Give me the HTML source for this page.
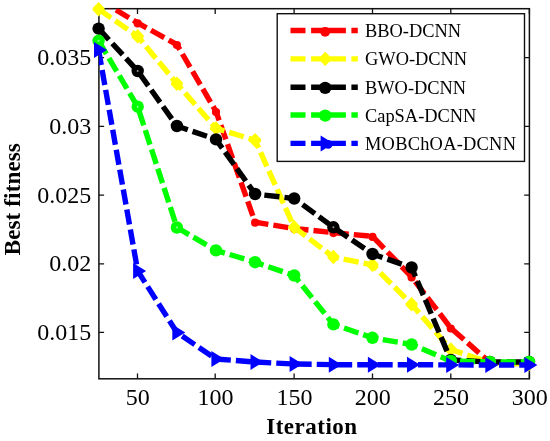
<!DOCTYPE html>
<html><head><meta charset="utf-8"><title>Convergence curves</title>
<style>
html,body{margin:0;padding:0;background:#fff;}
svg{display:block;}
text{font-variant-ligatures:none;font-family:"Liberation Serif","Times New Roman",serif;fill:#000;}
.tk{font-size:24px;}
.ax{font-size:23px;font-weight:bold;}
.lg{font-size:18.4px;}
</style></head><body>
<svg width="550" height="441" viewBox="0 0 550 441">
<rect x="0" y="0" width="550" height="441" fill="#ffffff"/>
<defs><clipPath id="ax"><rect x="98.9" y="8.7" width="430.5" height="370.1"/></clipPath></defs>

<rect x="98.9" y="8.7" width="430.5" height="370.1" fill="none" stroke="#111" stroke-width="1.5"/>
<path d="M137.5,378.8v-5.2M137.5,8.7v5.2M215.2,378.8v-5.2M215.2,8.7v5.2M294.1,378.8v-5.2M294.1,8.7v5.2M372.5,378.8v-5.2M372.5,8.7v5.2M450.8,378.8v-5.2M450.8,8.7v5.2M529.4,378.8v-5.2M529.4,8.7v5.2M98.9,57.7h5.2M529.4,57.7h-5.2M98.9,126.4h5.2M529.4,126.4h-5.2M98.9,195.1h5.2M529.4,195.1h-5.2M98.9,263.8h5.2M529.4,263.8h-5.2M98.9,332.4h5.2M529.4,332.4h-5.2" stroke="#111" stroke-width="1.3" fill="none"/>
<text class="tk" x="137.8" y="405.0" text-anchor="middle">50</text>
<text class="tk" x="215.5" y="405.0" text-anchor="middle">100</text>
<text class="tk" x="294.4" y="405.0" text-anchor="middle">150</text>
<text class="tk" x="372.8" y="405.0" text-anchor="middle">200</text>
<text class="tk" x="451.1" y="405.0" text-anchor="middle">250</text>
<text class="tk" x="529.7" y="405.0" text-anchor="middle">300</text>
<text class="tk" x="91.2" y="65.3" text-anchor="end">0.035</text>
<text class="tk" x="91.2" y="134.0" text-anchor="end">0.03</text>
<text class="tk" x="91.2" y="202.7" text-anchor="end">0.025</text>
<text class="tk" x="91.2" y="271.4" text-anchor="end">0.02</text>
<text class="tk" x="91.2" y="340.0" text-anchor="end">0.015</text>
<text class="ax" x="311.9" y="434.0" text-anchor="middle" letter-spacing="0.5">Iteration</text>
<text class="ax" transform="translate(20.2,199.2) rotate(-90)" text-anchor="middle" letter-spacing="0.15">Best fitness</text>
<g clip-path="url(#ax)"><polyline points="98.6,-0.5 137.7,22.9 176.9,44.6 216.0,111.5 255.1,222.2 294.2,228.5 333.4,232.6 372.5,236.4 411.6,277.0 450.8,328.0 489.9,362.5 529.0,364.0" fill="none" stroke="#ff0000" stroke-width="5.4" stroke-dasharray="15.2 5.05" stroke-linejoin="miter"/></g>
<circle cx="137.7" cy="23.4" r="4.1" fill="#ff0000"/>
<circle cx="176.9" cy="45.1" r="4.1" fill="#ff0000"/>
<circle cx="216.0" cy="112.0" r="4.1" fill="#ff0000"/>
<circle cx="255.1" cy="222.7" r="4.1" fill="#ff0000"/>
<circle cx="294.2" cy="229.0" r="4.1" fill="#ff0000"/>
<circle cx="333.4" cy="233.1" r="4.1" fill="#ff0000"/>
<circle cx="372.5" cy="236.9" r="4.1" fill="#ff0000"/>
<circle cx="411.6" cy="277.5" r="4.1" fill="#ff0000"/>
<circle cx="450.8" cy="328.5" r="4.1" fill="#ff0000"/>
<circle cx="489.9" cy="363.0" r="4.1" fill="#ff0000"/>
<circle cx="529.0" cy="364.5" r="4.1" fill="#ff0000"/>
<g clip-path="url(#ax)"><polyline points="98.6,9.2 137.7,36.3 176.9,83.7 216.0,128.4 255.1,140.2 294.2,227.3 333.4,257.0 372.5,264.9 411.6,304.3 450.8,349.5 489.9,362.5 529.0,364.0" fill="none" stroke="#ffff00" stroke-width="5.4" stroke-dasharray="15.2 5.05" stroke-linejoin="miter"/></g>
<polygon points="98.6,2.0 104.5,8.1 104.5,10.3 98.6,16.4 92.7,10.3 92.7,8.1" fill="#ffff00"/>
<polygon points="137.7,29.1 143.6,35.2 143.6,37.4 137.7,43.5 131.8,37.4 131.8,35.2" fill="#ffff00"/>
<polygon points="176.9,76.5 182.8,82.6 182.8,84.8 176.9,90.9 171.0,84.8 171.0,82.6" fill="#ffff00"/>
<polygon points="216.0,121.2 221.9,127.3 221.9,129.5 216.0,135.6 210.1,129.5 210.1,127.3" fill="#ffff00"/>
<polygon points="255.1,133.0 261.0,139.1 261.0,141.3 255.1,147.4 249.2,141.3 249.2,139.1" fill="#ffff00"/>
<polygon points="294.2,220.1 300.1,226.2 300.1,228.4 294.2,234.5 288.4,228.4 288.4,226.2" fill="#ffff00"/>
<polygon points="333.4,249.8 339.3,255.9 339.3,258.1 333.4,264.2 327.5,258.1 327.5,255.9" fill="#ffff00"/>
<polygon points="372.5,257.7 378.4,263.8 378.4,266.0 372.5,272.1 366.6,266.0 366.6,263.8" fill="#ffff00"/>
<polygon points="411.6,297.1 417.5,303.2 417.5,305.4 411.6,311.5 405.7,305.4 405.7,303.2" fill="#ffff00"/>
<polygon points="450.8,342.3 456.7,348.4 456.7,350.6 450.8,356.7 444.9,350.6 444.9,348.4" fill="#ffff00"/>
<polygon points="489.9,355.3 495.8,361.4 495.8,363.6 489.9,369.7 484.0,363.6 484.0,361.4" fill="#ffff00"/>
<polygon points="529.0,356.8 534.9,362.9 534.9,365.1 529.0,371.2 523.1,365.1 523.1,362.9" fill="#ffff00"/>
<g clip-path="url(#ax)"><polyline points="98.6,28.6 137.7,71.0 176.9,126.0 216.0,139.4 255.1,194.0 294.2,198.5 333.4,227.3 372.5,254.0 411.6,267.5 450.8,360.0 489.9,362.0 529.0,362.0" fill="none" stroke="#000000" stroke-width="5.4" stroke-dasharray="15.2 5.05" stroke-linejoin="miter"/></g>
<circle cx="98.6" cy="28.6" r="6.2" fill="#000000"/>
<circle cx="137.7" cy="71.0" r="6.2" fill="#000000"/><circle cx="137.7" cy="71.0" r="1.0" fill="#fff" fill-opacity="0.6"/>
<circle cx="176.9" cy="126.0" r="6.2" fill="#000000"/>
<circle cx="216.0" cy="139.4" r="6.2" fill="#000000"/>
<circle cx="255.1" cy="194.0" r="6.2" fill="#000000"/>
<circle cx="294.2" cy="198.5" r="6.2" fill="#000000"/>
<circle cx="333.4" cy="227.3" r="6.2" fill="#000000"/><circle cx="333.4" cy="227.3" r="1.0" fill="#fff" fill-opacity="0.6"/>
<circle cx="372.5" cy="254.0" r="6.2" fill="#000000"/>
<circle cx="411.6" cy="267.5" r="6.2" fill="#000000"/>
<circle cx="450.8" cy="360.0" r="6.2" fill="#000000"/>
<circle cx="489.9" cy="362.0" r="6.2" fill="#000000"/>
<circle cx="529.0" cy="362.0" r="6.2" fill="#000000"/>
<g clip-path="url(#ax)"><polyline points="98.6,40.8 137.7,106.7 176.9,227.5 216.0,250.4 255.1,262.2 294.2,275.5 333.4,324.4 372.5,337.8 411.6,344.5 450.8,361.0 489.9,362.0 529.0,362.0" fill="none" stroke="#00ff00" stroke-width="5.4" stroke-dasharray="15.2 5.05" stroke-linejoin="miter"/></g>
<circle cx="98.6" cy="40.8" r="6.2" fill="#00ff00"/><circle cx="98.6" cy="40.8" r="1.0" fill="#fff" fill-opacity="0.6"/>
<circle cx="137.7" cy="106.7" r="6.2" fill="#00ff00"/><circle cx="137.7" cy="106.7" r="1.0" fill="#fff" fill-opacity="0.6"/>
<circle cx="176.9" cy="227.5" r="6.2" fill="#00ff00"/><circle cx="176.9" cy="227.5" r="1.0" fill="#fff" fill-opacity="0.6"/>
<circle cx="216.0" cy="250.4" r="6.2" fill="#00ff00"/>
<circle cx="255.1" cy="262.2" r="6.2" fill="#00ff00"/>
<circle cx="294.2" cy="275.5" r="6.2" fill="#00ff00"/>
<circle cx="333.4" cy="324.4" r="6.2" fill="#00ff00"/>
<circle cx="372.5" cy="337.8" r="6.2" fill="#00ff00"/>
<circle cx="411.6" cy="344.5" r="6.2" fill="#00ff00"/>
<circle cx="450.8" cy="361.0" r="6.2" fill="#00ff00"/>
<circle cx="489.9" cy="362.0" r="6.2" fill="#00ff00"/>
<circle cx="529.0" cy="362.0" r="6.2" fill="#00ff00"/>
<g clip-path="url(#ax)"><polyline points="98.6,50.0 137.7,271.0 176.9,332.5 216.0,359.0 255.1,362.0 294.2,364.0 333.4,364.7 372.5,364.7 411.6,364.7 450.8,364.9 489.9,365.0 529.0,365.0" fill="none" stroke="#0000ff" stroke-width="5.4" stroke-dasharray="15.2 5.05" stroke-linejoin="miter"/></g>
<polygon points="94.0,42.0 94.0,58.0 107.0,50.0" fill="#0000ff"/>
<polygon points="133.1,263.0 133.1,279.0 146.1,271.0" fill="#0000ff"/>
<polygon points="172.3,324.5 172.3,340.5 185.3,332.5" fill="#0000ff"/>
<polygon points="211.4,351.0 211.4,367.0 224.4,359.0" fill="#0000ff"/>
<polygon points="250.5,354.0 250.5,370.0 263.5,362.0" fill="#0000ff"/>
<polygon points="289.6,356.0 289.6,372.0 302.6,364.0" fill="#0000ff"/>
<polygon points="328.8,356.7 328.8,372.7 341.8,364.7" fill="#0000ff"/>
<polygon points="367.9,356.7 367.9,372.7 380.9,364.7" fill="#0000ff"/>
<polygon points="407.0,356.7 407.0,372.7 420.0,364.7" fill="#0000ff"/>
<polygon points="446.2,356.9 446.2,372.9 459.2,364.9" fill="#0000ff"/>
<polygon points="485.3,357.0 485.3,373.0 498.3,365.0" fill="#0000ff"/>
<polygon points="524.4,357.0 524.4,373.0 537.4,365.0" fill="#0000ff"/>
<rect x="277.2" y="13.7" width="247.3" height="147.7" fill="#fff" stroke="#111" stroke-width="1.4"/>
<line x1="290.5" y1="30.5" x2="357.8" y2="30.5" stroke="#ff0000" stroke-width="5.4" stroke-dasharray="15 5.6 34.8 5.5 7"/>
<circle cx="325.2" cy="31.8" r="4.9" fill="#ff0000"/>
<text class="lg" x="365.0" y="37.0">BBO-DCNN</text>
<line x1="290.5" y1="58.9" x2="357.8" y2="58.9" stroke="#ffff00" stroke-width="5.4" stroke-dasharray="15 5.6 34.8 5.5 7"/>
<polygon points="325.2,51.7 331.1,57.8 331.1,60.0 325.2,66.1 319.3,60.0 319.3,57.8" fill="#ffff00"/>
<text class="lg" x="365.0" y="65.4">GWO-DCNN</text>
<line x1="290.5" y1="87.3" x2="357.8" y2="87.3" stroke="#000000" stroke-width="5.4" stroke-dasharray="15 5.6 34.8 5.5 7"/>
<circle cx="325.2" cy="87.9" r="6.2" fill="#000000"/>
<text class="lg" x="365.0" y="93.8">BWO-DCNN</text>
<line x1="290.5" y1="115.0" x2="357.8" y2="115.0" stroke="#00ff00" stroke-width="5.4" stroke-dasharray="15 5.6 34.8 5.5 7"/>
<circle cx="325.2" cy="115.6" r="6.2" fill="#00ff00"/>
<text class="lg" x="365.0" y="121.5">CapSA-DCNN</text>
<line x1="290.5" y1="143.4" x2="357.8" y2="143.4" stroke="#0000ff" stroke-width="5.4" stroke-dasharray="15 5.6 34.8 5.5 7"/>
<circle cx="328.2" cy="144.4" r="4.3" fill="#0000ff"/><polygon points="320.6,135.4 320.6,151.4 333.6,143.4" fill="#0000ff"/>
<text class="lg" x="365.0" y="149.9" letter-spacing="0.25">MOBChOA-DCNN</text>
</svg></body></html>
